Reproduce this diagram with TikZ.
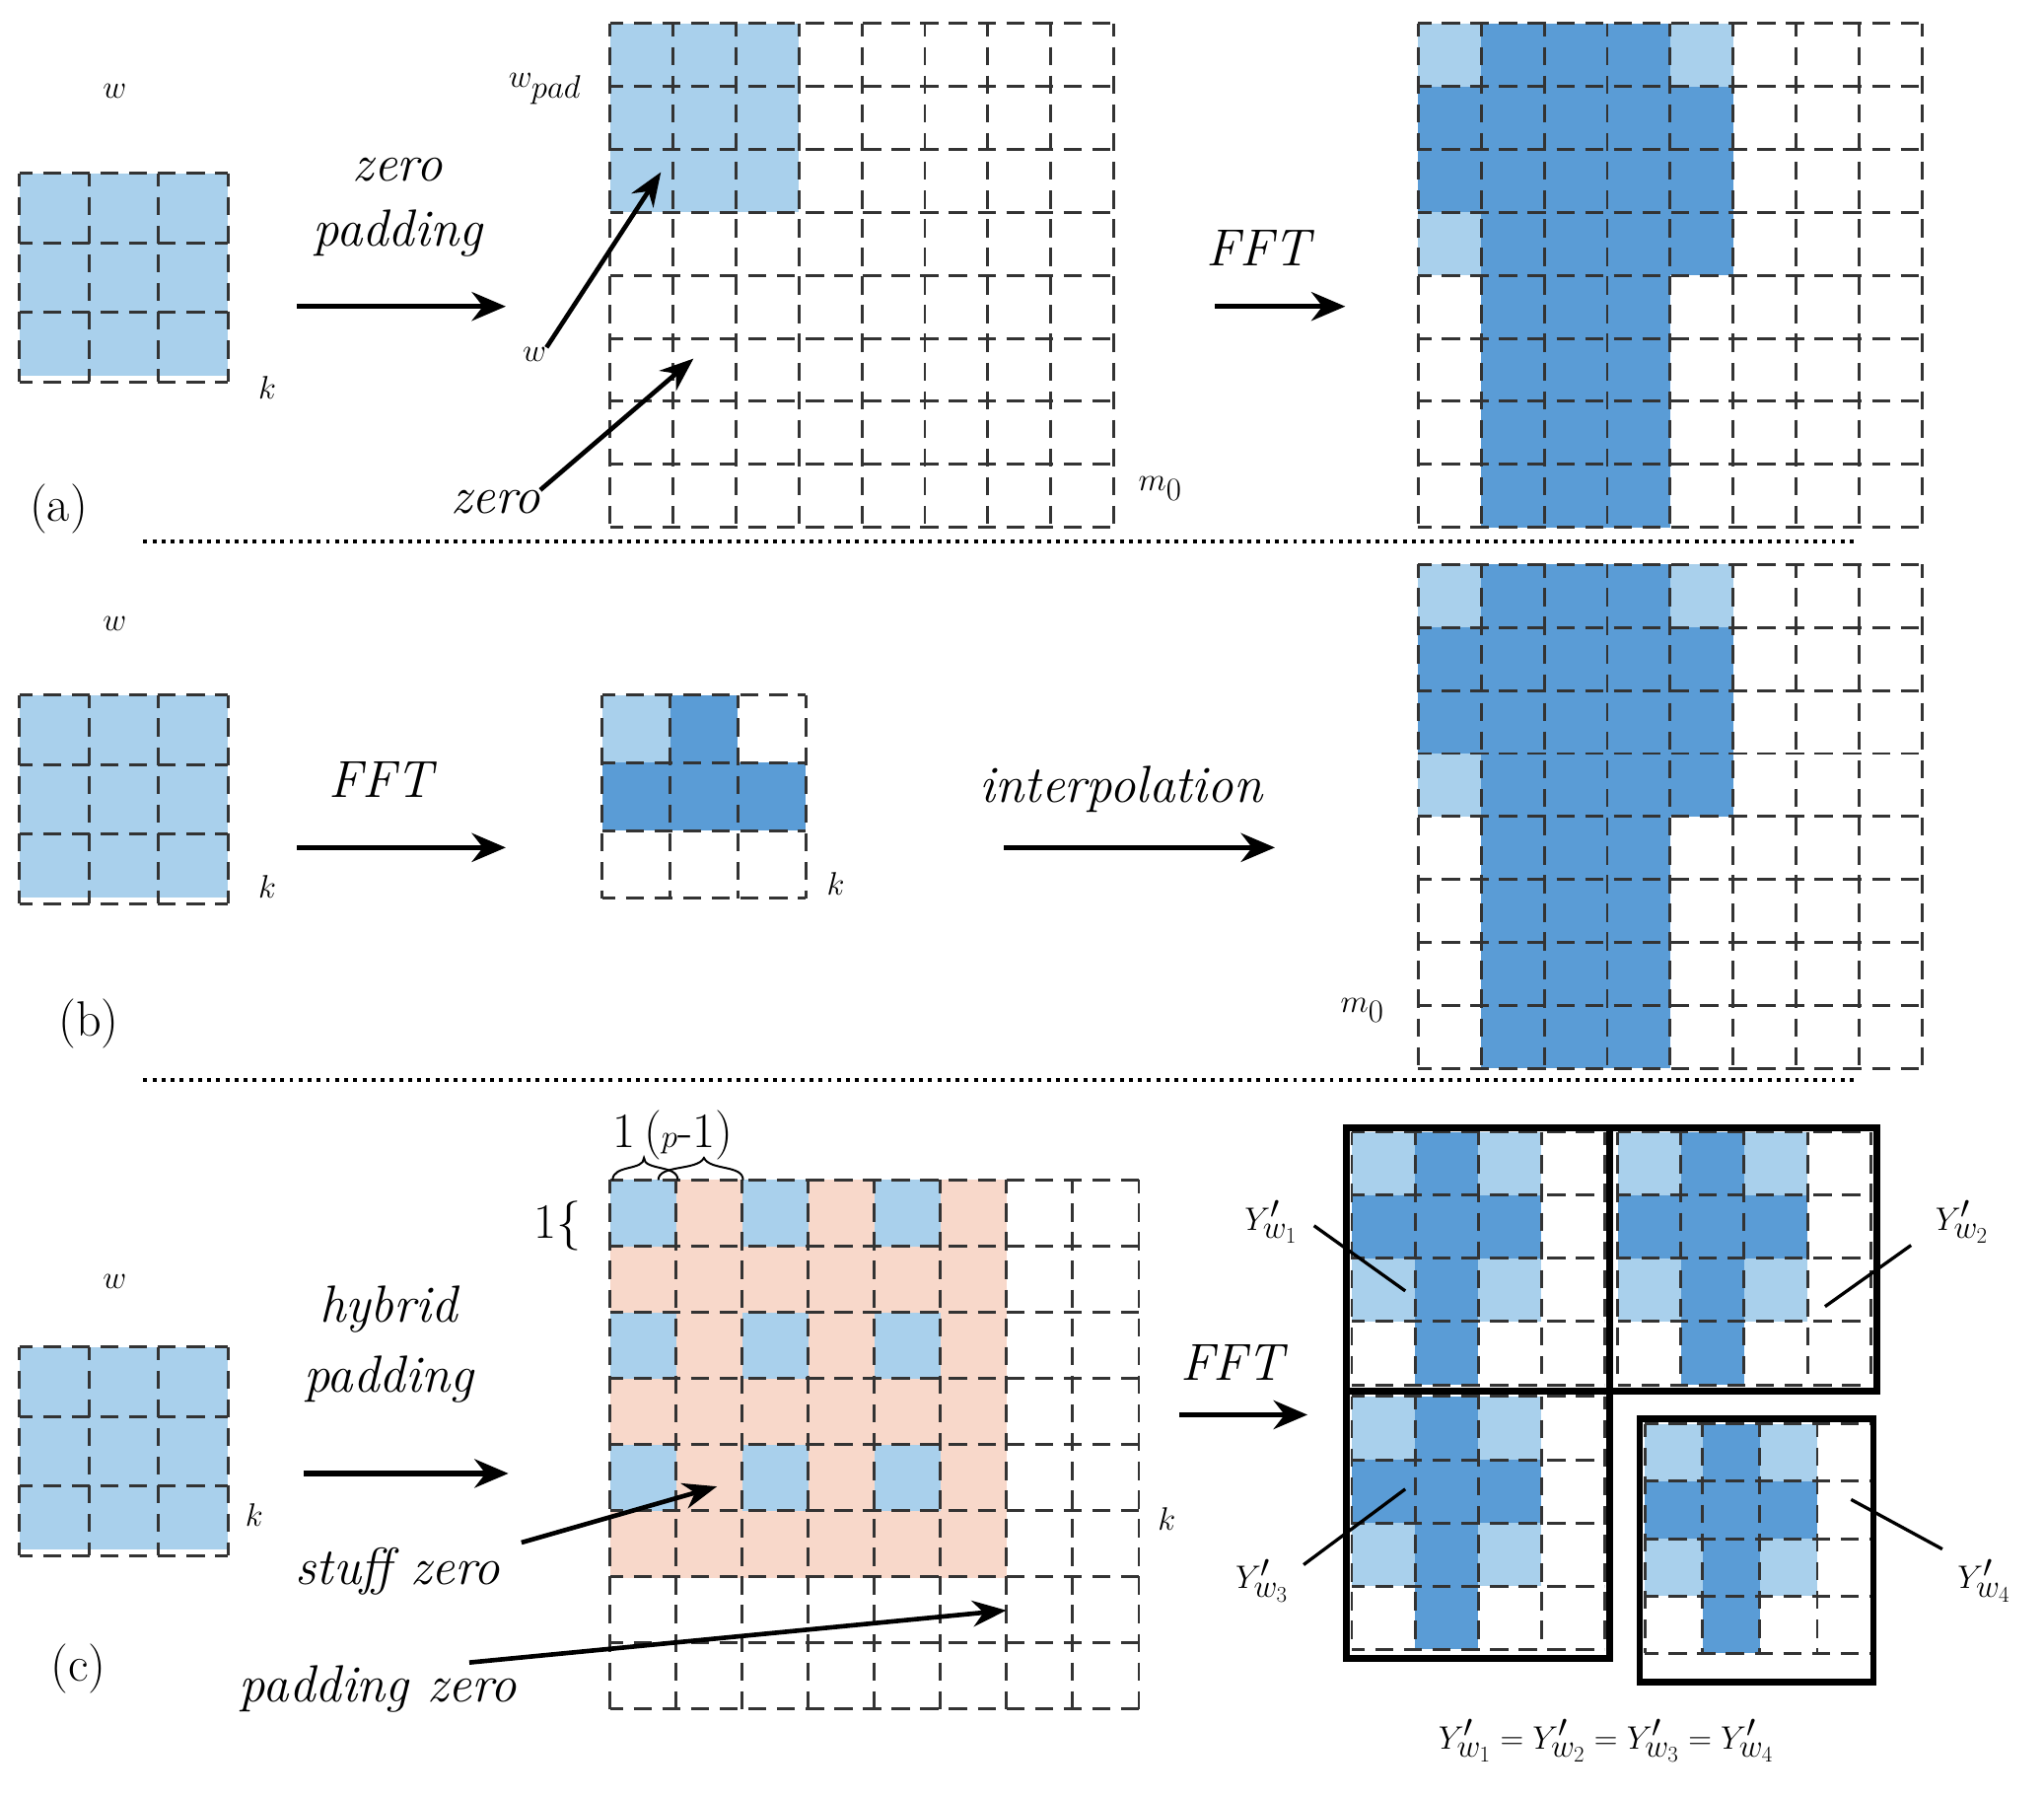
\documentclass[tikz,border=0pt]{standalone}
\usetikzlibrary{arrows.meta}
\definecolor{lb}{HTML}{A9D0EC}
\definecolor{db}{HTML}{5A9CD6}
\definecolor{pe}{HTML}{F8D8CA}
\tikzset{
  gl/.style={line width=2.2pt,dash pattern=on 14pt off 8pt,dash phase=4pt,black!80},
  bigarrow/.style={line width=4pt,-{Stealth[length=26pt,width=22pt]}},
  thinarrow/.style={line width=3.5pt,-{Stealth[length=26pt,width=20pt]}},
  lab/.style={font=\fontsize{40}{44}\selectfont\itshape,inner sep=0pt},
  rlab/.style={font=\fontsize{38}{42}\selectfont,inner sep=0pt},
  boxf/.style={line width=5pt},
  lead/.style={line width=2.5pt}
}
% \cellc{x0}{y0}{size}{col}{row}{color}
\newcommand{\cellc}[6]{\fill[#6] ({#1+#4*#3},{#2+#5*#3}) rectangle ++(#3,#3);}
% \gridd{x0}{y0}{size}{ncols}{nrows}
\newcommand{\gridd}[5]{%
  \foreach \i in {0,...,#4}{\draw[gl] ({#1+\i*#3},#2) -- ++(0,{#5*#3});}
  \foreach \j in {0,...,#5}{\draw[gl] (#1,{#2+\j*#3}) -- ++({#4*#3},0);}}
\newcommand{\bigfft}[3]{% x0 y0 size
  \foreach \c/\r/\k in {0/0/lb,1/0/db,2/0/db,3/0/db,4/0/lb,
     0/1/db,1/1/db,2/1/db,3/1/db,4/1/db,
     0/2/db,1/2/db,2/2/db,3/2/db,4/2/db,
     0/3/lb,1/3/db,2/3/db,3/3/db,4/3/db,
     1/4/db,2/4/db,3/4/db,1/5/db,2/5/db,3/5/db,1/6/db,2/6/db,3/6/db,1/7/db,2/7/db,3/7/db}
     {\cellc{#1}{#2}{#3}{\c}{\r}{\k}}
  \gridd{#1}{#2}{#3}{8}{8}}
\newcommand{\ysmall}[3]{%
  \foreach \c/\r/\k in {0/0/lb,1/0/db,2/0/lb,0/1/db,1/1/db,2/1/db,0/2/lb,1/2/db,2/2/lb,1/3/db}
     {\cellc{#1}{#2}{#3}{\c}{\r}{\k}}
  \gridd{#1}{#2}{#3}{4}{4}}
\newcommand{\wgrid}[2]{%
  \fill[lb] (#1,#2) rectangle ++(160,155);
  \gridd{#1}{#2}{53.3}{3}{3}}
\begin{document}
\begin{tikzpicture}[x=1pt,y=-1pt]
\useasboundingbox (0,0) rectangle (1568,1378);
\fill[white] (0,0) rectangle (1568,1378);
% ---------- (a)
\wgrid{15}{133}
\node[lab] (wa) at (88,70) {$w$};
\node[lab] (ka) at (205,297) {$k$};
\node[lab] (zp) at (305,155) {\begin{tabular}{c}zero\\[6pt]padding\end{tabular}};
\coordinate (a1s) at (228,235); \coordinate (a1e) at (388,235);
\draw[bigarrow] (a1s) -- (a1e);
\foreach \c/\r in {0/0,1/0,2/0,0/1,1/1,2/1,0/2,1/2,2/2}{\cellc{468}{18}{48.3}{\c}{\r}{lb}}
\gridd{468}{18}{48.3}{8}{8}
\node[lab] (wpad) at (418,68) {$w_{pad}$};
\node[lab] (wlab) at (410,272) {$w$};
\node[lab] (zlab) at (380,385) {zero};
\coordinate (wt) at (507,132); \coordinate (zt) at (532,275);
\draw[thinarrow] (wlab.north east) -- (wt);
\draw[thinarrow] (zlab.north east) -- (zt);
\node[lab] (m0a) at (890,375) {$m_0$};
\node[lab] (ffta) at (965,190) {FFT};
\coordinate (f1s) at (932,235); \coordinate (f1e) at (1032,235);
\draw[bigarrow] (f1s) -- (f1e);
\bigfft{1088}{18}{48.3}
\node[rlab] (la) at (45,390) {(a)};
\draw[line width=3pt,dash pattern=on 3pt off 4pt] (110,415) -- (1425,415);
% ---------- (b)
\wgrid{15}{533}
\node[lab] (wb) at (88,478) {$w$};
\node[lab] (kb) at (205,680) {$k$};
\node[lab] (fftb) at (292,598) {FFT};
\coordinate (b1s) at (228,650); \coordinate (b1e) at (388,650);
\draw[bigarrow] (b1s) -- (b1e);
\cellc{462}{533}{52}{0}{0}{lb}\cellc{462}{533}{52}{1}{0}{db}
\foreach \c in {0,1,2}{\cellc{462}{533}{52}{\c}{1}{db}}
\gridd{462}{533}{52}{3}{3}
\node[lab] (kb2) at (641,678) {$k$};
\node[lab] (interp) at (860,605) {interpolation};
\coordinate (b2s) at (770,650); \coordinate (b2e) at (978,650);
\draw[bigarrow] (b2s) -- (b2e);
\bigfft{1088}{433}{48.3}
\node[lab] (m0b) at (1045,775) {$m_0$};
\node[rlab] (lb) at (68,785) {(b)};
\draw[line width=3pt,dash pattern=on 3pt off 4pt] (110,828) -- (1425,828);
% ---------- (c)
\wgrid{15}{1033}
\node[lab] (wc) at (88,983) {$w$};
\node[lab] (kc) at (195,1162) {$k$};
\node[lab] (hp) at (298,1032) {\begin{tabular}{c}hybrid\\[10pt]padding\end{tabular}};
\coordinate (c1s) at (233,1130); \coordinate (c1e) at (390,1130);
\draw[bigarrow] (c1s) -- (c1e);
\fill[pe] (468,905) rectangle (772,1210);
\foreach \c in {0,2,4}{\foreach \r in {0,2,4}{\cellc{468}{905}{50.7}{\c}{\r}{lb}}}
\gridd{468}{905}{50.7}{8}{8}
\node[rlab] (one1) at (428,940) {1\{};
\node[rlab,anchor=south west] (pm) at (470,890) {1\,($p$-1)};
\draw[line width=1.5pt] (470,905) .. controls (470,893) and (494,898) .. (494,888) .. controls (494,898) and (520,893) .. (520,905);
\draw[line width=1.5pt] (505,905) .. controls (505,893) and (535,898) .. (540,888) .. controls (545,898) and (570,893) .. (570,905);
\node[lab] (kc2) at (895,1165) {$k$};
\node[lab] (sz) at (305,1205) {stuff zero};
\node[lab] (pz) at (290,1295) {padding zero};
\coordinate (szt) at (550,1140); \coordinate (pzt) at (772,1235);
\coordinate (szs) at (400,1183); \coordinate (pzs) at (360,1275);
\draw[thinarrow] (szs) -- (szt);
\draw[thinarrow] (pzs) -- (pzt);
\node[rlab] (lc) at (60,1280) {(c)};
\node[lab] (fftc) at (945,1045) {FFT};
\coordinate (c2s) at (905,1085); \coordinate (c2e) at (1003,1085);
\draw[bigarrow] (c2s) -- (c2e);
% four blocks
\ysmall{1037}{868}{48.5}
\ysmall{1241}{868}{48.5}
\ysmall{1037}{1071}{48.5}
\ysmall{1262}{1092}{44}
\draw[boxf] (1033,865) rectangle (1235,1067);
\draw[boxf] (1235,865) rectangle (1440,1067);
\draw[boxf] (1033,1067) rectangle (1235,1272);
\draw[boxf] (1258,1088) rectangle (1437,1290);
\node[rlab] (y1) at (975,937) {$Y'_{w_1}$};
\node[rlab] (y2) at (1505,937) {$Y'_{w_2}$};
\node[rlab] (y3) at (968,1212) {$Y'_{w_3}$};
\node[rlab] (y4) at (1522,1212) {$Y'_{w_4}$};
\coordinate (t1) at (1078,990); \coordinate (t2) at (1400,1002);
\coordinate (t3) at (1078,1142); \coordinate (t4) at (1420,1150);
\draw[lead] (1008,940) -- (t1);
\draw[lead] (1466,955) -- (t2);
\draw[lead] (1000,1200) -- (t3);
\draw[lead] (1490,1188) -- (t4);
\node[rlab] (eq) at (1232,1335) {$Y'_{w_1}=Y'_{w_2}=Y'_{w_3}=Y'_{w_4}$};
\end{tikzpicture}
\end{document}
